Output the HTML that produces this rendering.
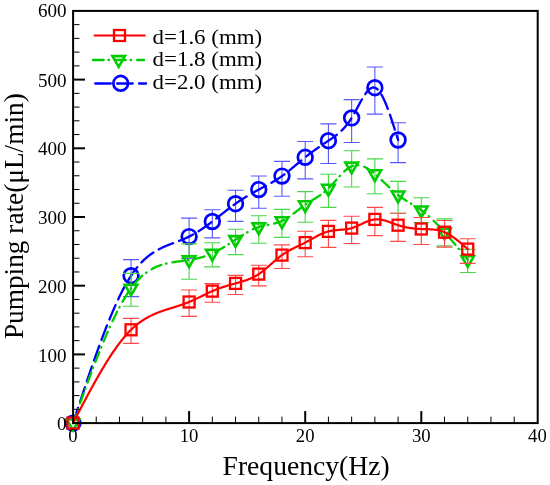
<!DOCTYPE html>
<html><head><meta charset="utf-8"><style>
html,body{margin:0;padding:0;background:#fff;}
body{width:550px;height:485px;overflow:hidden;}
svg{display:block;font-family:"Liberation Serif","Times New Roman",serif;}
</style></head><body>
<svg width="550" height="485" viewBox="0 0 550 485">
<rect width="550" height="485" fill="#fff"/>
<g><path d="M131.05,259.60V296.60M123.05,259.60H139.05M123.05,296.60H139.05M189.10,218.10V258.50M181.10,218.10H197.10M181.10,258.50H197.10M212.32,209.70V237.90M204.32,209.70H220.32M204.32,237.90H220.32M235.54,190.30V221.40M227.54,190.30H243.54M227.54,221.40H243.54M258.76,176.00V208.20M250.76,176.00H266.76M250.76,208.20H266.76M281.98,161.40V196.20M273.98,161.40H289.98M273.98,196.20H289.98M305.20,141.50V178.90M297.20,141.50H313.20M297.20,178.90H313.20M328.42,123.90V163.50M320.42,123.90H336.42M320.42,163.50H336.42M351.64,99.60V142.50M343.64,99.60H359.64M343.64,142.50H359.64M374.86,67.00V114.10M366.86,67.00H382.86M366.86,114.10H382.86M398.08,122.70V162.60M390.08,122.70H406.08M390.08,162.60H406.08" stroke="#5858ff" stroke-width="1.1" fill="none"/>
<path d="M73.00,423.10 L73.50,421.58 L74.00,420.05 L74.50,418.53 L75.00,417.01 L75.50,415.48 L76.00,413.96 L76.50,412.44 L77.00,410.92 L77.50,409.40 L78.00,407.88 L78.50,406.36 L79.00,404.85 L79.50,403.33 L80.00,401.82 L80.50,400.31 L81.00,398.80 L81.50,397.29 L82.00,395.78 L82.50,394.28 L83.00,392.78 L83.50,391.28 L84.00,389.78 L84.50,388.28 L85.00,386.79 L85.50,385.30 L86.00,383.81 L86.50,382.33 L87.00,380.85 L87.50,379.37 L88.00,377.90 L88.50,376.42 L89.00,374.96 L89.50,373.49 L90.00,372.03 L90.50,370.58 L91.00,369.12 L91.50,367.68 L92.00,366.23 L92.50,364.79 L93.00,363.36 L93.51,361.92 L94.01,360.50 L94.51,359.08 L95.01,357.66 L95.51,356.25 L96.01,354.84 L96.51,353.44 L97.01,352.04 L97.51,350.65 L98.01,349.27 L98.51,347.89 L99.01,346.51 L99.51,345.15 L100.01,343.78 L100.51,342.43 L101.01,341.08 L101.51,339.74 L102.01,338.40 L102.51,337.07 L103.01,335.74 L103.51,334.43 L104.01,333.12 L104.51,331.81 L105.01,330.52 L105.51,329.23 L106.01,327.95 L106.51,326.68 L107.01,325.41 L107.51,324.15 L108.01,322.90 L108.51,321.66 L109.01,320.42 L109.51,319.20 L110.01,317.98 L110.51,316.77 L111.01,315.57 L111.51,314.37 L112.01,313.19 L112.51,312.01 L113.01,310.85 L113.51,309.69 L114.01,308.54 L114.51,307.40 L115.01,306.27 L115.51,305.15 L116.01,304.04 L116.51,302.94 L117.01,301.85 L117.51,300.77 L118.01,299.70 L118.51,298.64 L119.01,297.59 L119.51,296.55 L120.01,295.52 L120.51,294.50 L121.01,293.49 L121.51,292.49 L122.01,291.51 L122.51,290.53 L123.01,289.57 L123.51,288.61 L124.01,287.67 L124.51,286.74 L125.01,285.82 L125.51,284.92 L126.01,284.02 L126.51,283.14 L127.01,282.27 L127.51,281.41 L128.01,280.57 L128.51,279.73 L129.01,278.91 L129.51,278.10 L130.01,277.31 L130.51,276.52 L131.01,275.75 L131.51,275.00 L132.01,274.25 L132.51,273.52 L133.01,272.81 L133.51,272.10 L134.02,271.41 L134.52,270.73 L135.02,270.06 L135.52,269.40 L136.02,268.75 L136.52,268.12 L137.02,267.50 L137.52,266.89 L138.02,266.29 L138.52,265.70 L139.02,265.12 L139.52,264.56 L140.02,264.00 L140.52,263.45 L141.02,262.92 L141.52,262.39 L142.02,261.88 L142.52,261.37 L143.02,260.88 L143.52,260.39 L144.02,259.91 L144.52,259.45 L145.02,258.99 L145.52,258.54 L146.02,258.10 L146.52,257.66 L147.02,257.24 L147.52,256.83 L148.02,256.42 L148.52,256.02 L149.02,255.63 L149.52,255.24 L150.02,254.87 L150.52,254.50 L151.02,254.14 L151.52,253.78 L152.02,253.44 L152.52,253.10 L153.02,252.76 L153.52,252.44 L154.02,252.12 L154.52,251.80 L155.02,251.49 L155.52,251.19 L156.02,250.89 L156.52,250.60 L157.02,250.32 L157.52,250.04 L158.02,249.76 L158.52,249.49 L159.02,249.23 L159.52,248.97 L160.02,248.71 L160.52,248.46 L161.02,248.22 L161.52,247.97 L162.02,247.73 L162.52,247.50 L163.02,247.27 L163.52,247.04 L164.02,246.82 L164.52,246.60 L165.02,246.38 L165.52,246.16 L166.02,245.95 L166.52,245.74 L167.02,245.53 L167.52,245.33 L168.02,245.13 L168.52,244.93 L169.02,244.73 L169.52,244.53 L170.02,244.34 L170.52,244.14 L171.02,243.95 L171.52,243.76 L172.02,243.57 L172.52,243.38 L173.02,243.19 L173.52,243.00 L174.02,242.82 L174.52,242.63 L175.03,242.44 L175.53,242.26 L176.03,242.07 L176.53,241.88 L177.03,241.69 L177.53,241.50 L178.03,241.31 L178.53,241.12 L179.03,240.93 L179.53,240.74 L180.03,240.54 L180.53,240.35 L181.03,240.15 L181.53,239.95 L182.03,239.75 L182.53,239.55 L183.03,239.34 L183.53,239.13 L184.03,238.92 L184.53,238.71 L185.03,238.49 L185.53,238.27 L186.03,238.05 L186.53,237.82 L187.03,237.59 L187.53,237.36 L188.03,237.12 L188.53,236.88 L189.03,236.64 L189.53,236.39 L190.03,236.13 L190.53,235.87 L191.03,235.61 L191.53,235.35 L192.03,235.08 L192.53,234.80 L193.03,234.53 L193.53,234.25 L194.03,233.96 L194.53,233.67 L195.03,233.38 L195.53,233.08 L196.03,232.78 L196.53,232.48 L197.03,232.18 L197.53,231.87 L198.03,231.55 L198.53,231.24 L199.03,230.92 L199.53,230.60 L200.03,230.27 L200.53,229.94 L201.03,229.61 L201.53,229.28 L202.03,228.94 L202.53,228.60 L203.03,228.26 L203.53,227.92 L204.03,227.57 L204.53,227.22 L205.03,226.87 L205.53,226.51 L206.03,226.16 L206.53,225.80 L207.03,225.44 L207.53,225.07 L208.03,224.71 L208.53,224.34 L209.03,223.97 L209.53,223.60 L210.03,223.23 L210.53,222.85 L211.03,222.48 L211.53,222.10 L212.03,221.72 L212.53,221.34 L213.03,220.95 L213.53,220.57 L214.03,220.18 L214.53,219.80 L215.03,219.41 L215.54,219.02 L216.04,218.63 L216.54,218.24 L217.04,217.85 L217.54,217.46 L218.04,217.07 L218.54,216.67 L219.04,216.28 L219.54,215.89 L220.04,215.49 L220.54,215.10 L221.04,214.71 L221.54,214.31 L222.04,213.92 L222.54,213.53 L223.04,213.13 L223.54,212.74 L224.04,212.35 L224.54,211.96 L225.04,211.57 L225.54,211.18 L226.04,210.79 L226.54,210.40 L227.04,210.02 L227.54,209.63 L228.04,209.25 L228.54,208.86 L229.04,208.48 L229.54,208.10 L230.04,207.72 L230.54,207.35 L231.04,206.97 L231.54,206.60 L232.04,206.23 L232.54,205.86 L233.04,205.50 L233.54,205.13 L234.04,204.77 L234.54,204.41 L235.04,204.05 L235.54,203.70 L236.04,203.35 L236.54,203.00 L237.04,202.65 L237.54,202.31 L238.04,201.97 L238.54,201.63 L239.04,201.30 L239.54,200.96 L240.04,200.63 L240.54,200.30 L241.04,199.98 L241.54,199.65 L242.04,199.33 L242.54,199.01 L243.04,198.69 L243.54,198.38 L244.04,198.07 L244.54,197.75 L245.04,197.45 L245.54,197.14 L246.04,196.83 L246.54,196.53 L247.04,196.23 L247.54,195.93 L248.04,195.63 L248.54,195.34 L249.04,195.04 L249.54,194.75 L250.04,194.46 L250.54,194.17 L251.04,193.88 L251.54,193.59 L252.04,193.31 L252.54,193.02 L253.04,192.74 L253.54,192.46 L254.04,192.18 L254.54,191.90 L255.04,191.63 L255.54,191.35 L256.05,191.07 L256.55,190.80 L257.05,190.53 L257.55,190.26 L258.05,189.99 L258.55,189.72 L259.05,189.45 L259.55,189.18 L260.05,188.91 L260.55,188.64 L261.05,188.38 L261.55,188.11 L262.05,187.85 L262.55,187.58 L263.05,187.31 L263.55,187.05 L264.05,186.78 L264.55,186.52 L265.05,186.25 L265.55,185.98 L266.05,185.71 L266.55,185.44 L267.05,185.17 L267.55,184.90 L268.05,184.63 L268.55,184.36 L269.05,184.08 L269.55,183.80 L270.05,183.53 L270.55,183.25 L271.05,182.96 L271.55,182.68 L272.05,182.39 L272.55,182.11 L273.05,181.82 L273.55,181.52 L274.05,181.23 L274.55,180.93 L275.05,180.63 L275.55,180.32 L276.05,180.02 L276.55,179.71 L277.05,179.39 L277.55,179.08 L278.05,178.75 L278.55,178.43 L279.05,178.10 L279.55,177.77 L280.05,177.43 L280.55,177.09 L281.05,176.75 L281.55,176.40 L282.05,176.05 L282.55,175.69 L283.05,175.33 L283.55,174.96 L284.05,174.59 L284.55,174.22 L285.05,173.84 L285.55,173.46 L286.05,173.08 L286.55,172.69 L287.05,172.30 L287.55,171.90 L288.05,171.50 L288.55,171.10 L289.05,170.70 L289.55,170.30 L290.05,169.89 L290.55,169.48 L291.05,169.07 L291.55,168.66 L292.05,168.24 L292.55,167.83 L293.05,167.41 L293.55,166.99 L294.05,166.57 L294.55,166.15 L295.05,165.73 L295.55,165.31 L296.05,164.89 L296.56,164.47 L297.06,164.05 L297.56,163.62 L298.06,163.20 L298.56,162.78 L299.06,162.36 L299.56,161.94 L300.06,161.52 L300.56,161.10 L301.06,160.69 L301.56,160.27 L302.06,159.86 L302.56,159.45 L303.06,159.04 L303.56,158.63 L304.06,158.22 L304.56,157.82 L305.06,157.41 L305.56,157.02 L306.06,156.62 L306.56,156.22 L307.06,155.83 L307.56,155.44 L308.06,155.06 L308.56,154.67 L309.06,154.29 L309.56,153.91 L310.06,153.53 L310.56,153.16 L311.06,152.78 L311.56,152.41 L312.06,152.04 L312.56,151.67 L313.06,151.31 L313.56,150.94 L314.06,150.58 L314.56,150.22 L315.06,149.86 L315.56,149.50 L316.06,149.15 L316.56,148.79 L317.06,148.44 L317.56,148.09 L318.06,147.74 L318.56,147.39 L319.06,147.04 L319.56,146.69 L320.06,146.35 L320.56,146.00 L321.06,145.66 L321.56,145.32 L322.06,144.98 L322.56,144.64 L323.06,144.30 L323.56,143.96 L324.06,143.62 L324.56,143.28 L325.06,142.95 L325.56,142.61 L326.06,142.28 L326.56,141.94 L327.06,141.61 L327.56,141.27 L328.06,140.94 L328.56,140.60 L329.06,140.27 L329.56,139.94 L330.06,139.60 L330.56,139.27 L331.06,138.93 L331.56,138.59 L332.06,138.25 L332.56,137.90 L333.06,137.55 L333.56,137.20 L334.06,136.84 L334.56,136.48 L335.06,136.11 L335.56,135.74 L336.06,135.36 L336.56,134.97 L337.06,134.58 L337.57,134.18 L338.07,133.77 L338.57,133.35 L339.07,132.93 L339.57,132.49 L340.07,132.05 L340.57,131.59 L341.07,131.12 L341.57,130.64 L342.07,130.15 L342.57,129.65 L343.07,129.14 L343.57,128.61 L344.07,128.07 L344.57,127.51 L345.07,126.94 L345.57,126.36 L346.07,125.76 L346.57,125.14 L347.07,124.51 L347.57,123.86 L348.07,123.20 L348.57,122.51 L349.07,121.81 L349.57,121.09 L350.07,120.35 L350.57,119.59 L351.07,118.81 L351.57,118.02 L352.07,117.20 L352.57,116.36 L353.07,115.50 L353.57,114.63 L354.07,113.74 L354.57,112.85 L355.07,111.94 L355.57,111.02 L356.07,110.10 L356.57,109.17 L357.07,108.24 L357.57,107.30 L358.07,106.37 L358.57,105.44 L359.07,104.51 L359.57,103.59 L360.07,102.68 L360.57,101.78 L361.07,100.89 L361.57,100.01 L362.07,99.14 L362.57,98.29 L363.07,97.47 L363.57,96.66 L364.07,95.87 L364.57,95.11 L365.07,94.37 L365.57,93.66 L366.07,92.98 L366.57,92.33 L367.07,91.71 L367.57,91.13 L368.07,90.58 L368.57,90.08 L369.07,89.61 L369.57,89.18 L370.07,88.80 L370.57,88.46 L371.07,88.17 L371.57,87.93 L372.07,87.74 L372.57,87.61 L373.07,87.52 L373.57,87.50 L374.07,87.53 L374.57,87.62 L375.07,87.77 L375.57,87.99 L376.07,88.26 L376.57,88.60 L377.07,88.99 L377.57,89.44 L378.08,89.95 L378.58,90.50 L379.08,91.12 L379.58,91.78 L380.08,92.49 L380.58,93.25 L381.08,94.06 L381.58,94.91 L382.08,95.81 L382.58,96.75 L383.08,97.74 L383.58,98.76 L384.08,99.83 L384.58,100.93 L385.08,102.06 L385.58,103.24 L386.08,104.44 L386.58,105.68 L387.08,106.95 L387.58,108.25 L388.08,109.58 L388.58,110.93 L389.08,112.31 L389.58,113.72 L390.08,115.14 L390.58,116.59 L391.08,118.06 L391.58,119.55 L392.08,121.06 L392.58,122.58 L393.08,124.11 L393.58,125.66 L394.08,127.23 L394.58,128.80 L395.08,130.38 L395.58,131.97 L396.08,133.57 L396.58,135.17 L397.08,136.78 L397.58,138.39 L398.08,140.00" fill="none" stroke="#0000ff" stroke-width="2.3" stroke-dasharray="15.6 6.3" stroke-dashoffset="-0.34" stroke-linecap="round"/>
<circle cx="73.00" cy="423.10" r="7.35" fill="none" stroke="#0000ff" stroke-width="2.7"/>
<circle cx="131.05" cy="275.70" r="7.35" fill="none" stroke="#0000ff" stroke-width="2.7"/>
<circle cx="189.10" cy="236.60" r="7.35" fill="none" stroke="#0000ff" stroke-width="2.7"/>
<circle cx="212.32" cy="221.50" r="7.35" fill="none" stroke="#0000ff" stroke-width="2.7"/>
<circle cx="235.54" cy="203.70" r="7.35" fill="none" stroke="#0000ff" stroke-width="2.7"/>
<circle cx="258.76" cy="189.60" r="7.35" fill="none" stroke="#0000ff" stroke-width="2.7"/>
<circle cx="281.98" cy="176.10" r="7.35" fill="none" stroke="#0000ff" stroke-width="2.7"/>
<circle cx="305.20" cy="157.30" r="7.35" fill="none" stroke="#0000ff" stroke-width="2.7"/>
<circle cx="328.42" cy="140.70" r="7.35" fill="none" stroke="#0000ff" stroke-width="2.7"/>
<circle cx="351.64" cy="117.90" r="7.35" fill="none" stroke="#0000ff" stroke-width="2.7"/>
<circle cx="374.86" cy="87.70" r="7.35" fill="none" stroke="#0000ff" stroke-width="2.7"/>
<circle cx="398.08" cy="140.00" r="7.35" fill="none" stroke="#0000ff" stroke-width="2.7"/>
<path d="M131.05,273.40V306.20M123.05,273.40H139.05M123.05,306.20H139.05M189.10,243.90V279.30M181.10,243.90H197.10M181.10,279.30H197.10M212.32,242.80V266.90M204.32,242.80H220.32M204.32,266.90H220.32M235.54,229.30V254.60M227.54,229.30H243.54M227.54,254.60H243.54M258.76,215.70V243.20M250.76,215.70H266.76M250.76,243.20H266.76M281.98,209.40V237.40M273.98,209.40H289.98M273.98,237.40H289.98M305.20,191.60V222.30M297.20,191.60H313.20M297.20,222.30H313.20M328.42,174.20V207.40M320.42,174.20H336.42M320.42,207.40H336.42M351.64,150.80V187.00M343.64,150.80H359.64M343.64,187.00H359.64M374.86,158.90V193.70M366.86,158.90H382.86M366.86,193.70H382.86M398.08,181.40V213.20M390.08,181.40H406.08M390.08,213.20H406.08M421.30,197.70V222.50M413.30,197.70H429.30M413.30,222.50H429.30M444.52,218.90V245.90M436.52,218.90H452.52M436.52,245.90H452.52M467.74,249.40V272.50M459.74,249.40H475.74M459.74,272.50H475.74" stroke="#48d848" stroke-width="1.1" fill="none"/>
<path d="M73.00,423.10 L73.50,421.70 L74.00,420.30 L74.50,418.90 L75.00,417.50 L75.50,416.10 L76.00,414.70 L76.50,413.30 L77.00,411.91 L77.50,410.51 L78.00,409.11 L78.50,407.72 L79.00,406.33 L79.50,404.93 L80.00,403.54 L80.50,402.15 L81.00,400.77 L81.51,399.38 L82.01,398.00 L82.51,396.61 L83.01,395.23 L83.51,393.86 L84.01,392.48 L84.51,391.11 L85.01,389.74 L85.51,388.37 L86.01,387.00 L86.51,385.64 L87.01,384.28 L87.51,382.92 L88.01,381.57 L88.51,380.22 L89.01,378.87 L89.51,377.52 L90.01,376.18 L90.51,374.85 L91.01,373.51 L91.51,372.18 L92.01,370.86 L92.51,369.54 L93.01,368.22 L93.51,366.91 L94.01,365.60 L94.51,364.29 L95.01,362.99 L95.51,361.70 L96.01,360.41 L96.51,359.12 L97.01,357.84 L97.51,356.57 L98.02,355.30 L98.52,354.03 L99.02,352.77 L99.52,351.52 L100.02,350.27 L100.52,349.03 L101.02,347.79 L101.52,346.56 L102.02,345.34 L102.52,344.12 L103.02,342.91 L103.52,341.70 L104.02,340.50 L104.52,339.31 L105.02,338.12 L105.52,336.94 L106.02,335.77 L106.52,334.61 L107.02,333.45 L107.52,332.30 L108.02,331.15 L108.52,330.02 L109.02,328.89 L109.52,327.77 L110.02,326.65 L110.52,325.55 L111.02,324.45 L111.52,323.36 L112.02,322.28 L112.52,321.21 L113.02,320.14 L113.52,319.09 L114.02,318.04 L114.53,317.00 L115.03,315.97 L115.53,314.95 L116.03,313.94 L116.53,312.94 L117.03,311.94 L117.53,310.96 L118.03,309.99 L118.53,309.02 L119.03,308.07 L119.53,307.12 L120.03,306.19 L120.53,305.26 L121.03,304.34 L121.53,303.44 L122.03,302.54 L122.53,301.66 L123.03,300.79 L123.53,299.92 L124.03,299.07 L124.53,298.23 L125.03,297.40 L125.53,296.58 L126.03,295.77 L126.53,294.97 L127.03,294.19 L127.53,293.41 L128.03,292.65 L128.53,291.90 L129.03,291.16 L129.53,290.43 L130.03,289.71 L130.53,289.01 L131.04,288.32 L131.54,287.64 L132.04,286.97 L132.54,286.32 L133.04,285.68 L133.54,285.05 L134.04,284.43 L134.54,283.82 L135.04,283.23 L135.54,282.64 L136.04,282.07 L136.54,281.51 L137.04,280.95 L137.54,280.41 L138.04,279.88 L138.54,279.37 L139.04,278.86 L139.54,278.36 L140.04,277.87 L140.54,277.39 L141.04,276.93 L141.54,276.47 L142.04,276.02 L142.54,275.58 L143.04,275.15 L143.54,274.73 L144.04,274.32 L144.54,273.92 L145.04,273.53 L145.54,273.15 L146.04,272.77 L146.54,272.41 L147.05,272.05 L147.55,271.70 L148.05,271.36 L148.55,271.03 L149.05,270.71 L149.55,270.39 L150.05,270.08 L150.55,269.78 L151.05,269.49 L151.55,269.20 L152.05,268.92 L152.55,268.65 L153.05,268.39 L153.55,268.13 L154.05,267.88 L154.55,267.64 L155.05,267.40 L155.55,267.17 L156.05,266.95 L156.55,266.73 L157.05,266.52 L157.55,266.31 L158.05,266.11 L158.55,265.91 L159.05,265.73 L159.55,265.54 L160.05,265.36 L160.55,265.19 L161.05,265.02 L161.55,264.86 L162.05,264.70 L162.55,264.55 L163.05,264.40 L163.56,264.26 L164.06,264.12 L164.56,263.98 L165.06,263.85 L165.56,263.72 L166.06,263.60 L166.56,263.48 L167.06,263.37 L167.56,263.25 L168.06,263.14 L168.56,263.04 L169.06,262.94 L169.56,262.84 L170.06,262.74 L170.56,262.65 L171.06,262.55 L171.56,262.47 L172.06,262.38 L172.56,262.30 L173.06,262.21 L173.56,262.13 L174.06,262.06 L174.56,261.98 L175.06,261.91 L175.56,261.83 L176.06,261.76 L176.56,261.69 L177.06,261.62 L177.56,261.55 L178.06,261.49 L178.56,261.42 L179.06,261.36 L179.56,261.29 L180.07,261.23 L180.57,261.16 L181.07,261.10 L181.57,261.04 L182.07,260.97 L182.57,260.91 L183.07,260.84 L183.57,260.78 L184.07,260.71 L184.57,260.65 L185.07,260.58 L185.57,260.51 L186.07,260.44 L186.57,260.37 L187.07,260.30 L187.57,260.23 L188.07,260.16 L188.57,260.08 L189.07,260.00 L189.57,259.93 L190.07,259.84 L190.57,259.76 L191.07,259.68 L191.57,259.59 L192.07,259.50 L192.57,259.41 L193.07,259.31 L193.57,259.22 L194.07,259.12 L194.57,259.02 L195.07,258.91 L195.57,258.81 L196.07,258.70 L196.58,258.59 L197.08,258.47 L197.58,258.36 L198.08,258.24 L198.58,258.11 L199.08,257.99 L199.58,257.86 L200.08,257.73 L200.58,257.59 L201.08,257.46 L201.58,257.31 L202.08,257.17 L202.58,257.02 L203.08,256.87 L203.58,256.72 L204.08,256.56 L204.58,256.40 L205.08,256.23 L205.58,256.06 L206.08,255.89 L206.58,255.71 L207.08,255.53 L207.58,255.35 L208.08,255.16 L208.58,254.97 L209.08,254.77 L209.58,254.57 L210.08,254.37 L210.58,254.16 L211.08,253.95 L211.58,253.73 L212.08,253.51 L212.58,253.28 L213.09,253.05 L213.59,252.81 L214.09,252.57 L214.59,252.33 L215.09,252.08 L215.59,251.83 L216.09,251.58 L216.59,251.32 L217.09,251.06 L217.59,250.79 L218.09,250.52 L218.59,250.25 L219.09,249.97 L219.59,249.69 L220.09,249.41 L220.59,249.12 L221.09,248.83 L221.59,248.54 L222.09,248.25 L222.59,247.95 L223.09,247.65 L223.59,247.35 L224.09,247.05 L224.59,246.74 L225.09,246.44 L225.59,246.13 L226.09,245.81 L226.59,245.50 L227.09,245.19 L227.59,244.87 L228.09,244.55 L228.59,244.23 L229.09,243.91 L229.60,243.59 L230.10,243.26 L230.60,242.94 L231.10,242.61 L231.60,242.29 L232.10,241.96 L232.60,241.63 L233.10,241.31 L233.60,240.98 L234.10,240.65 L234.60,240.32 L235.10,239.99 L235.60,239.66 L236.10,239.33 L236.60,239.00 L237.10,238.67 L237.60,238.35 L238.10,238.02 L238.60,237.69 L239.10,237.37 L239.60,237.04 L240.10,236.72 L240.60,236.40 L241.10,236.08 L241.60,235.76 L242.10,235.44 L242.60,235.13 L243.10,234.82 L243.60,234.51 L244.10,234.20 L244.60,233.89 L245.10,233.59 L245.60,233.29 L246.11,233.00 L246.61,232.71 L247.11,232.42 L247.61,232.13 L248.11,231.85 L248.61,231.57 L249.11,231.30 L249.61,231.03 L250.11,230.76 L250.61,230.50 L251.11,230.24 L251.61,229.99 L252.11,229.74 L252.61,229.50 L253.11,229.26 L253.61,229.03 L254.11,228.81 L254.61,228.59 L255.11,228.37 L255.61,228.16 L256.11,227.96 L256.61,227.77 L257.11,227.58 L257.61,227.39 L258.11,227.22 L258.61,227.05 L259.11,226.89 L259.61,226.73 L260.11,226.58 L260.61,226.44 L261.11,226.30 L261.61,226.17 L262.11,226.04 L262.62,225.92 L263.12,225.80 L263.62,225.69 L264.12,225.58 L264.62,225.47 L265.12,225.37 L265.62,225.26 L266.12,225.16 L266.62,225.06 L267.12,224.97 L267.62,224.87 L268.12,224.77 L268.62,224.68 L269.12,224.58 L269.62,224.49 L270.12,224.39 L270.62,224.29 L271.12,224.19 L271.62,224.09 L272.12,223.98 L272.62,223.88 L273.12,223.77 L273.62,223.65 L274.12,223.54 L274.62,223.41 L275.12,223.29 L275.62,223.16 L276.12,223.02 L276.62,222.88 L277.12,222.73 L277.62,222.57 L278.12,222.41 L278.63,222.24 L279.13,222.07 L279.63,221.88 L280.13,221.69 L280.63,221.49 L281.13,221.28 L281.63,221.06 L282.13,220.83 L282.63,220.59 L283.13,220.34 L283.63,220.09 L284.13,219.82 L284.63,219.54 L285.13,219.26 L285.63,218.97 L286.13,218.67 L286.63,218.36 L287.13,218.05 L287.63,217.73 L288.13,217.40 L288.63,217.07 L289.13,216.73 L289.63,216.39 L290.13,216.04 L290.63,215.69 L291.13,215.33 L291.63,214.97 L292.13,214.60 L292.63,214.24 L293.13,213.86 L293.63,213.49 L294.13,213.11 L294.63,212.73 L295.14,212.35 L295.64,211.97 L296.14,211.58 L296.64,211.20 L297.14,210.81 L297.64,210.43 L298.14,210.04 L298.64,209.66 L299.14,209.27 L299.64,208.89 L300.14,208.51 L300.64,208.13 L301.14,207.75 L301.64,207.38 L302.14,207.00 L302.64,206.63 L303.14,206.27 L303.64,205.90 L304.14,205.55 L304.64,205.19 L305.14,204.84 L305.64,204.50 L306.14,204.16 L306.64,203.82 L307.14,203.49 L307.64,203.16 L308.14,202.83 L308.64,202.51 L309.14,202.19 L309.64,201.88 L310.14,201.56 L310.64,201.25 L311.14,200.93 L311.65,200.62 L312.15,200.31 L312.65,200.00 L313.15,199.69 L313.65,199.38 L314.15,199.07 L314.65,198.76 L315.15,198.44 L315.65,198.13 L316.15,197.81 L316.65,197.49 L317.15,197.16 L317.65,196.84 L318.15,196.51 L318.65,196.17 L319.15,195.84 L319.65,195.49 L320.15,195.15 L320.65,194.79 L321.15,194.44 L321.65,194.07 L322.15,193.70 L322.65,193.33 L323.15,192.94 L323.65,192.55 L324.15,192.15 L324.65,191.75 L325.15,191.33 L325.65,190.91 L326.15,190.48 L326.65,190.04 L327.15,189.59 L327.65,189.12 L328.16,188.65 L328.66,188.17 L329.16,187.68 L329.66,187.18 L330.16,186.67 L330.66,186.15 L331.16,185.62 L331.66,185.09 L332.16,184.55 L332.66,184.00 L333.16,183.45 L333.66,182.90 L334.16,182.34 L334.66,181.78 L335.16,181.21 L335.66,180.65 L336.16,180.09 L336.66,179.52 L337.16,178.96 L337.66,178.40 L338.16,177.84 L338.66,177.28 L339.16,176.73 L339.66,176.18 L340.16,175.64 L340.66,175.10 L341.16,174.57 L341.66,174.05 L342.16,173.53 L342.66,173.02 L343.16,172.52 L343.66,172.04 L344.16,171.56 L344.67,171.10 L345.17,170.64 L345.67,170.20 L346.17,169.78 L346.67,169.36 L347.17,168.97 L347.67,168.59 L348.17,168.22 L348.67,167.87 L349.17,167.54 L349.67,167.23 L350.17,166.94 L350.67,166.67 L351.17,166.42 L351.67,166.19 L352.17,165.98 L352.67,165.79 L353.17,165.63 L353.67,165.48 L354.17,165.36 L354.67,165.26 L355.17,165.18 L355.67,165.11 L356.17,165.07 L356.67,165.04 L357.17,165.04 L357.67,165.05 L358.17,165.08 L358.67,165.13 L359.17,165.19 L359.67,165.27 L360.17,165.37 L360.67,165.48 L361.18,165.61 L361.68,165.76 L362.18,165.92 L362.68,166.09 L363.18,166.28 L363.68,166.48 L364.18,166.70 L364.68,166.93 L365.18,167.17 L365.68,167.42 L366.18,167.69 L366.68,167.97 L367.18,168.26 L367.68,168.56 L368.18,168.87 L368.68,169.20 L369.18,169.53 L369.68,169.87 L370.18,170.22 L370.68,170.58 L371.18,170.95 L371.68,171.33 L372.18,171.72 L372.68,172.11 L373.18,172.51 L373.68,172.92 L374.18,173.33 L374.68,173.75 L375.18,174.18 L375.68,174.61 L376.18,175.04 L376.68,175.49 L377.18,175.93 L377.69,176.38 L378.19,176.84 L378.69,177.30 L379.19,177.76 L379.69,178.22 L380.19,178.69 L380.69,179.16 L381.19,179.64 L381.69,180.11 L382.19,180.59 L382.69,181.07 L383.19,181.55 L383.69,182.03 L384.19,182.51 L384.69,183.00 L385.19,183.48 L385.69,183.96 L386.19,184.45 L386.69,184.93 L387.19,185.41 L387.69,185.89 L388.19,186.37 L388.69,186.84 L389.19,187.32 L389.69,187.79 L390.19,188.26 L390.69,188.73 L391.19,189.19 L391.69,189.65 L392.19,190.11 L392.69,190.56 L393.19,191.01 L393.69,191.45 L394.20,191.89 L394.70,192.32 L395.20,192.75 L395.70,193.17 L396.20,193.59 L396.70,194.00 L397.20,194.40 L397.70,194.80 L398.20,195.19 L398.70,195.57 L399.20,195.95 L399.70,196.32 L400.20,196.68 L400.70,197.04 L401.20,197.39 L401.70,197.73 L402.20,198.07 L402.70,198.41 L403.20,198.74 L403.70,199.07 L404.20,199.39 L404.70,199.71 L405.20,200.02 L405.70,200.34 L406.20,200.65 L406.70,200.95 L407.20,201.26 L407.70,201.56 L408.20,201.86 L408.70,202.16 L409.20,202.46 L409.70,202.75 L410.21,203.05 L410.71,203.35 L411.21,203.64 L411.71,203.94 L412.21,204.24 L412.71,204.54 L413.21,204.84 L413.71,205.14 L414.21,205.44 L414.71,205.75 L415.21,206.05 L415.71,206.36 L416.21,206.68 L416.71,206.99 L417.21,207.31 L417.71,207.64 L418.21,207.97 L418.71,208.30 L419.21,208.63 L419.71,208.98 L420.21,209.32 L420.71,209.68 L421.21,210.04 L421.71,210.40 L422.21,210.77 L422.71,211.15 L423.21,211.53 L423.71,211.92 L424.21,212.32 L424.71,212.72 L425.21,213.12 L425.71,213.53 L426.21,213.95 L426.72,214.37 L427.22,214.80 L427.72,215.23 L428.22,215.67 L428.72,216.12 L429.22,216.56 L429.72,217.02 L430.22,217.47 L430.72,217.94 L431.22,218.40 L431.72,218.88 L432.22,219.35 L432.72,219.83 L433.22,220.32 L433.72,220.80 L434.22,221.30 L434.72,221.79 L435.22,222.29 L435.72,222.80 L436.22,223.31 L436.72,223.82 L437.22,224.33 L437.72,224.85 L438.22,225.37 L438.72,225.90 L439.22,226.43 L439.72,226.96 L440.22,227.49 L440.72,228.03 L441.22,228.57 L441.72,229.12 L442.22,229.66 L442.72,230.21 L443.23,230.76 L443.73,231.32 L444.23,231.87 L444.73,232.43 L445.23,232.99 L445.73,233.55 L446.23,234.12 L446.73,234.68 L447.23,235.25 L447.73,235.82 L448.23,236.40 L448.73,236.97 L449.23,237.55 L449.73,238.12 L450.23,238.70 L450.73,239.29 L451.23,239.87 L451.73,240.45 L452.23,241.04 L452.73,241.63 L453.23,242.22 L453.73,242.81 L454.23,243.40 L454.73,243.99 L455.23,244.58 L455.73,245.18 L456.23,245.78 L456.73,246.37 L457.23,246.97 L457.73,247.57 L458.23,248.17 L458.73,248.77 L459.23,249.38 L459.74,249.98 L460.24,250.58 L460.74,251.19 L461.24,251.79 L461.74,252.40 L462.24,253.01 L462.74,253.61 L463.24,254.22 L463.74,254.83 L464.24,255.44 L464.74,256.04 L465.24,256.65 L465.74,257.26 L466.24,257.87 L466.74,258.48 L467.24,259.09 L467.74,259.70" fill="none" stroke="#00cc00" stroke-width="2.3" stroke-dasharray="10.6 4.91 0.5 6.06" stroke-dashoffset="1.16" stroke-linecap="round"/>
<path d="M66.75,419.49H79.25L73.00,430.32Z" fill="none" stroke="#00cc00" stroke-width="2.6" stroke-linejoin="miter"/>
<path d="M124.80,284.69H137.30L131.05,295.52Z" fill="none" stroke="#00cc00" stroke-width="2.6" stroke-linejoin="miter"/>
<path d="M182.85,256.39H195.35L189.10,267.22Z" fill="none" stroke="#00cc00" stroke-width="2.6" stroke-linejoin="miter"/>
<path d="M206.07,249.79H218.57L212.32,260.62Z" fill="none" stroke="#00cc00" stroke-width="2.6" stroke-linejoin="miter"/>
<path d="M229.29,236.09H241.79L235.54,246.92Z" fill="none" stroke="#00cc00" stroke-width="2.6" stroke-linejoin="miter"/>
<path d="M252.51,223.39H265.01L258.76,234.22Z" fill="none" stroke="#00cc00" stroke-width="2.6" stroke-linejoin="miter"/>
<path d="M275.73,217.29H288.23L281.98,228.12Z" fill="none" stroke="#00cc00" stroke-width="2.6" stroke-linejoin="miter"/>
<path d="M298.95,201.19H311.45L305.20,212.02Z" fill="none" stroke="#00cc00" stroke-width="2.6" stroke-linejoin="miter"/>
<path d="M322.17,184.79H334.67L328.42,195.62Z" fill="none" stroke="#00cc00" stroke-width="2.6" stroke-linejoin="miter"/>
<path d="M345.39,162.59H357.89L351.64,173.42Z" fill="none" stroke="#00cc00" stroke-width="2.6" stroke-linejoin="miter"/>
<path d="M368.61,170.29H381.11L374.86,181.12Z" fill="none" stroke="#00cc00" stroke-width="2.6" stroke-linejoin="miter"/>
<path d="M391.83,191.49H404.33L398.08,202.32Z" fill="none" stroke="#00cc00" stroke-width="2.6" stroke-linejoin="miter"/>
<path d="M415.05,206.49H427.55L421.30,217.32Z" fill="none" stroke="#00cc00" stroke-width="2.6" stroke-linejoin="miter"/>
<path d="M438.27,228.59H450.77L444.52,239.42Z" fill="none" stroke="#00cc00" stroke-width="2.6" stroke-linejoin="miter"/>
<path d="M461.49,256.09H473.99L467.74,266.92Z" fill="none" stroke="#00cc00" stroke-width="2.6" stroke-linejoin="miter"/>
<path d="M131.05,318.40V343.40M123.05,318.40H139.05M123.05,343.40H139.05M189.10,290.00V316.40M181.10,290.00H197.10M181.10,316.40H197.10M212.32,283.60V302.20M204.32,283.60H220.32M204.32,302.20H220.32M235.54,275.40V294.50M227.54,275.40H243.54M227.54,294.50H243.54M258.76,265.30V285.90M250.76,265.30H266.76M250.76,285.90H266.76M281.98,244.90V268.50M273.98,244.90H289.98M273.98,268.50H289.98M305.20,231.20V256.80M297.20,231.20H313.20M297.20,256.80H313.20M328.42,220.40V247.40M320.42,220.40H336.42M320.42,247.40H336.42M351.64,216.30V243.50M343.64,216.30H359.64M343.64,243.50H359.64M374.86,207.40V235.60M366.86,207.40H382.86M366.86,235.60H382.86M398.08,213.30V241.40M390.08,213.30H406.08M390.08,241.40H406.08M421.30,217.50V244.50M413.30,217.50H429.30M413.30,244.50H429.30M444.52,220.50V247.10M436.52,220.50H452.52M436.52,247.10H452.52M467.74,238.70V263.40M459.74,238.70H475.74M459.74,263.40H475.74" stroke="#ff4848" stroke-width="1.1" fill="none"/>
<path d="M73.00,423.10 L73.50,422.14 L74.00,421.18 L74.50,420.22 L75.00,419.26 L75.50,418.30 L76.00,417.34 L76.50,416.38 L77.00,415.42 L77.50,414.46 L78.00,413.50 L78.50,412.55 L79.00,411.59 L79.50,410.63 L80.00,409.68 L80.50,408.73 L81.00,407.77 L81.51,406.82 L82.01,405.87 L82.51,404.92 L83.01,403.98 L83.51,403.03 L84.01,402.09 L84.51,401.14 L85.01,400.20 L85.51,399.26 L86.01,398.32 L86.51,397.39 L87.01,396.45 L87.51,395.52 L88.01,394.59 L88.51,393.66 L89.01,392.73 L89.51,391.81 L90.01,390.89 L90.51,389.97 L91.01,389.05 L91.51,388.14 L92.01,387.23 L92.51,386.32 L93.01,385.41 L93.51,384.51 L94.01,383.61 L94.51,382.71 L95.01,381.81 L95.51,380.92 L96.01,380.03 L96.51,379.15 L97.01,378.27 L97.51,377.39 L98.02,376.51 L98.52,375.64 L99.02,374.77 L99.52,373.91 L100.02,373.05 L100.52,372.19 L101.02,371.34 L101.52,370.49 L102.02,369.64 L102.52,368.80 L103.02,367.96 L103.52,367.13 L104.02,366.30 L104.52,365.48 L105.02,364.66 L105.52,363.84 L106.02,363.03 L106.52,362.22 L107.02,361.42 L107.52,360.63 L108.02,359.83 L108.52,359.05 L109.02,358.26 L109.52,357.49 L110.02,356.72 L110.52,355.95 L111.02,355.19 L111.52,354.43 L112.02,353.68 L112.52,352.93 L113.02,352.19 L113.52,351.46 L114.02,350.73 L114.53,350.01 L115.03,349.29 L115.53,348.58 L116.03,347.87 L116.53,347.17 L117.03,346.48 L117.53,345.79 L118.03,345.11 L118.53,344.44 L119.03,343.77 L119.53,343.11 L120.03,342.45 L120.53,341.80 L121.03,341.16 L121.53,340.52 L122.03,339.89 L122.53,339.27 L123.03,338.66 L123.53,338.05 L124.03,337.45 L124.53,336.85 L125.03,336.27 L125.53,335.69 L126.03,335.12 L126.53,334.55 L127.03,333.99 L127.53,333.45 L128.03,332.90 L128.53,332.37 L129.03,331.84 L129.53,331.32 L130.03,330.81 L130.53,330.31 L131.04,329.81 L131.54,329.33 L132.04,328.85 L132.54,328.38 L133.04,327.91 L133.54,327.46 L134.04,327.01 L134.54,326.57 L135.04,326.14 L135.54,325.71 L136.04,325.29 L136.54,324.88 L137.04,324.48 L137.54,324.08 L138.04,323.69 L138.54,323.31 L139.04,322.93 L139.54,322.56 L140.04,322.20 L140.54,321.84 L141.04,321.49 L141.54,321.14 L142.04,320.80 L142.54,320.47 L143.04,320.14 L143.54,319.82 L144.04,319.51 L144.54,319.20 L145.04,318.89 L145.54,318.59 L146.04,318.30 L146.54,318.01 L147.05,317.72 L147.55,317.45 L148.05,317.17 L148.55,316.90 L149.05,316.64 L149.55,316.38 L150.05,316.12 L150.55,315.87 L151.05,315.62 L151.55,315.38 L152.05,315.14 L152.55,314.91 L153.05,314.68 L153.55,314.45 L154.05,314.23 L154.55,314.01 L155.05,313.79 L155.55,313.58 L156.05,313.37 L156.55,313.17 L157.05,312.96 L157.55,312.76 L158.05,312.57 L158.55,312.37 L159.05,312.18 L159.55,311.99 L160.05,311.81 L160.55,311.62 L161.05,311.44 L161.55,311.26 L162.05,311.08 L162.55,310.91 L163.05,310.74 L163.56,310.57 L164.06,310.40 L164.56,310.23 L165.06,310.06 L165.56,309.90 L166.06,309.73 L166.56,309.57 L167.06,309.41 L167.56,309.25 L168.06,309.09 L168.56,308.93 L169.06,308.78 L169.56,308.62 L170.06,308.47 L170.56,308.31 L171.06,308.16 L171.56,308.00 L172.06,307.85 L172.56,307.69 L173.06,307.54 L173.56,307.38 L174.06,307.23 L174.56,307.07 L175.06,306.92 L175.56,306.76 L176.06,306.61 L176.56,306.45 L177.06,306.29 L177.56,306.13 L178.06,305.97 L178.56,305.81 L179.06,305.65 L179.56,305.49 L180.07,305.32 L180.57,305.15 L181.07,304.99 L181.57,304.82 L182.07,304.65 L182.57,304.47 L183.07,304.30 L183.57,304.12 L184.07,303.94 L184.57,303.76 L185.07,303.58 L185.57,303.39 L186.07,303.20 L186.57,303.01 L187.07,302.82 L187.57,302.62 L188.07,302.42 L188.57,302.22 L189.07,302.01 L189.57,301.80 L190.07,301.59 L190.57,301.38 L191.07,301.16 L191.57,300.94 L192.07,300.71 L192.57,300.49 L193.07,300.26 L193.57,300.03 L194.07,299.80 L194.57,299.56 L195.07,299.33 L195.57,299.09 L196.07,298.85 L196.58,298.61 L197.08,298.37 L197.58,298.13 L198.08,297.88 L198.58,297.64 L199.08,297.39 L199.58,297.15 L200.08,296.90 L200.58,296.65 L201.08,296.41 L201.58,296.16 L202.08,295.91 L202.58,295.67 L203.08,295.42 L203.58,295.17 L204.08,294.93 L204.58,294.68 L205.08,294.44 L205.58,294.20 L206.08,293.96 L206.58,293.72 L207.08,293.48 L207.58,293.24 L208.08,293.01 L208.58,292.77 L209.08,292.54 L209.58,292.31 L210.08,292.08 L210.58,291.86 L211.08,291.64 L211.58,291.42 L212.08,291.20 L212.58,290.99 L213.09,290.78 L213.59,290.57 L214.09,290.36 L214.59,290.16 L215.09,289.96 L215.59,289.76 L216.09,289.57 L216.59,289.38 L217.09,289.19 L217.59,289.00 L218.09,288.81 L218.59,288.63 L219.09,288.45 L219.59,288.27 L220.09,288.10 L220.59,287.92 L221.09,287.75 L221.59,287.58 L222.09,287.41 L222.59,287.25 L223.09,287.08 L223.59,286.92 L224.09,286.76 L224.59,286.60 L225.09,286.44 L225.59,286.28 L226.09,286.13 L226.59,285.97 L227.09,285.82 L227.59,285.67 L228.09,285.52 L228.59,285.37 L229.09,285.23 L229.60,285.08 L230.10,284.93 L230.60,284.79 L231.10,284.65 L231.60,284.50 L232.10,284.36 L232.60,284.22 L233.10,284.08 L233.60,283.94 L234.10,283.80 L234.60,283.66 L235.10,283.52 L235.60,283.38 L236.10,283.25 L236.60,283.11 L237.10,282.97 L237.60,282.83 L238.10,282.69 L238.60,282.55 L239.10,282.41 L239.60,282.27 L240.10,282.13 L240.60,281.99 L241.10,281.84 L241.60,281.69 L242.10,281.54 L242.60,281.39 L243.10,281.24 L243.60,281.08 L244.10,280.92 L244.60,280.76 L245.10,280.59 L245.60,280.42 L246.11,280.25 L246.61,280.08 L247.11,279.89 L247.61,279.71 L248.11,279.52 L248.61,279.33 L249.11,279.13 L249.61,278.93 L250.11,278.72 L250.61,278.50 L251.11,278.28 L251.61,278.06 L252.11,277.83 L252.61,277.59 L253.11,277.35 L253.61,277.10 L254.11,276.84 L254.61,276.58 L255.11,276.31 L255.61,276.03 L256.11,275.74 L256.61,275.45 L257.11,275.15 L257.61,274.84 L258.11,274.52 L258.61,274.20 L259.11,273.86 L259.61,273.52 L260.11,273.17 L260.61,272.81 L261.11,272.44 L261.61,272.07 L262.11,271.69 L262.62,271.31 L263.12,270.91 L263.62,270.52 L264.12,270.11 L264.62,269.70 L265.12,269.29 L265.62,268.87 L266.12,268.45 L266.62,268.03 L267.12,267.60 L267.62,267.17 L268.12,266.74 L268.62,266.30 L269.12,265.86 L269.62,265.42 L270.12,264.99 L270.62,264.54 L271.12,264.10 L271.62,263.66 L272.12,263.22 L272.62,262.78 L273.12,262.34 L273.62,261.90 L274.12,261.47 L274.62,261.03 L275.12,260.60 L275.62,260.17 L276.12,259.74 L276.62,259.32 L277.12,258.90 L277.62,258.49 L278.12,258.08 L278.63,257.67 L279.13,257.27 L279.63,256.88 L280.13,256.49 L280.63,256.10 L281.13,255.73 L281.63,255.36 L282.13,254.99 L282.63,254.64 L283.13,254.29 L283.63,253.95 L284.13,253.62 L284.63,253.29 L285.13,252.97 L285.63,252.65 L286.13,252.34 L286.63,252.04 L287.13,251.74 L287.63,251.45 L288.13,251.16 L288.63,250.87 L289.13,250.59 L289.63,250.32 L290.13,250.05 L290.63,249.78 L291.13,249.52 L291.63,249.25 L292.13,249.00 L292.63,248.74 L293.13,248.49 L293.63,248.24 L294.13,247.99 L294.63,247.75 L295.14,247.50 L295.64,247.26 L296.14,247.02 L296.64,246.78 L297.14,246.54 L297.64,246.30 L298.14,246.06 L298.64,245.82 L299.14,245.59 L299.64,245.35 L300.14,245.11 L300.64,244.87 L301.14,244.63 L301.64,244.38 L302.14,244.14 L302.64,243.89 L303.14,243.65 L303.64,243.40 L304.14,243.14 L304.64,242.89 L305.14,242.63 L305.64,242.37 L306.14,242.11 L306.64,241.84 L307.14,241.57 L307.64,241.30 L308.14,241.03 L308.64,240.75 L309.14,240.48 L309.64,240.20 L310.14,239.92 L310.64,239.64 L311.14,239.37 L311.65,239.09 L312.15,238.81 L312.65,238.53 L313.15,238.25 L313.65,237.97 L314.15,237.70 L314.65,237.43 L315.15,237.15 L315.65,236.88 L316.15,236.61 L316.65,236.35 L317.15,236.08 L317.65,235.82 L318.15,235.57 L318.65,235.31 L319.15,235.06 L319.65,234.81 L320.15,234.57 L320.65,234.33 L321.15,234.10 L321.65,233.87 L322.15,233.65 L322.65,233.43 L323.15,233.22 L323.65,233.02 L324.15,232.82 L324.65,232.62 L325.15,232.44 L325.65,232.26 L326.15,232.08 L326.65,231.92 L327.15,231.76 L327.65,231.61 L328.16,231.47 L328.66,231.34 L329.16,231.21 L329.66,231.10 L330.16,230.99 L330.66,230.89 L331.16,230.79 L331.66,230.71 L332.16,230.62 L332.66,230.55 L333.16,230.48 L333.66,230.41 L334.16,230.35 L334.66,230.29 L335.16,230.24 L335.66,230.19 L336.16,230.14 L336.66,230.10 L337.16,230.06 L337.66,230.02 L338.16,229.98 L338.66,229.94 L339.16,229.91 L339.66,229.87 L340.16,229.83 L340.66,229.80 L341.16,229.76 L341.66,229.72 L342.16,229.68 L342.66,229.64 L343.16,229.59 L343.66,229.54 L344.16,229.49 L344.67,229.44 L345.17,229.38 L345.67,229.32 L346.17,229.25 L346.67,229.18 L347.17,229.10 L347.67,229.02 L348.17,228.93 L348.67,228.83 L349.17,228.73 L349.67,228.62 L350.17,228.50 L350.67,228.37 L351.17,228.24 L351.67,228.09 L352.17,227.94 L352.67,227.78 L353.17,227.61 L353.67,227.43 L354.17,227.24 L354.67,227.05 L355.17,226.85 L355.67,226.65 L356.17,226.44 L356.67,226.22 L357.17,226.00 L357.67,225.78 L358.17,225.56 L358.67,225.33 L359.17,225.09 L359.67,224.86 L360.17,224.63 L360.67,224.39 L361.18,224.16 L361.68,223.92 L362.18,223.68 L362.68,223.45 L363.18,223.22 L363.68,222.99 L364.18,222.76 L364.68,222.53 L365.18,222.31 L365.68,222.09 L366.18,221.88 L366.68,221.67 L367.18,221.47 L367.68,221.27 L368.18,221.08 L368.68,220.90 L369.18,220.72 L369.68,220.56 L370.18,220.40 L370.68,220.24 L371.18,220.10 L371.68,219.97 L372.18,219.85 L372.68,219.74 L373.18,219.64 L373.68,219.56 L374.18,219.48 L374.68,219.42 L375.18,219.37 L375.68,219.33 L376.18,219.31 L376.68,219.30 L377.18,219.30 L377.69,219.32 L378.19,219.34 L378.69,219.38 L379.19,219.43 L379.69,219.48 L380.19,219.55 L380.69,219.63 L381.19,219.71 L381.69,219.81 L382.19,219.91 L382.69,220.02 L383.19,220.13 L383.69,220.26 L384.19,220.39 L384.69,220.53 L385.19,220.67 L385.69,220.82 L386.19,220.97 L386.69,221.13 L387.19,221.30 L387.69,221.46 L388.19,221.64 L388.69,221.81 L389.19,221.99 L389.69,222.17 L390.19,222.35 L390.69,222.53 L391.19,222.72 L391.69,222.90 L392.19,223.09 L392.69,223.28 L393.19,223.47 L393.69,223.65 L394.20,223.84 L394.70,224.02 L395.20,224.20 L395.70,224.38 L396.20,224.56 L396.70,224.73 L397.20,224.91 L397.70,225.07 L398.20,225.24 L398.70,225.40 L399.20,225.55 L399.70,225.70 L400.20,225.85 L400.70,225.99 L401.20,226.13 L401.70,226.27 L402.20,226.40 L402.70,226.53 L403.20,226.65 L403.70,226.77 L404.20,226.89 L404.70,227.00 L405.20,227.11 L405.70,227.21 L406.20,227.31 L406.70,227.41 L407.20,227.51 L407.70,227.60 L408.20,227.68 L408.70,227.77 L409.20,227.85 L409.70,227.93 L410.21,228.01 L410.71,228.08 L411.21,228.15 L411.71,228.21 L412.21,228.28 L412.71,228.34 L413.21,228.40 L413.71,228.45 L414.21,228.51 L414.71,228.56 L415.21,228.60 L415.71,228.65 L416.21,228.69 L416.71,228.73 L417.21,228.77 L417.71,228.81 L418.21,228.84 L418.71,228.87 L419.21,228.90 L419.71,228.93 L420.21,228.95 L420.71,228.98 L421.21,229.00 L421.71,229.02 L422.21,229.03 L422.71,229.05 L423.21,229.07 L423.71,229.08 L424.21,229.09 L424.71,229.11 L425.21,229.12 L425.71,229.13 L426.21,229.15 L426.72,229.16 L427.22,229.18 L427.72,229.20 L428.22,229.21 L428.72,229.23 L429.22,229.26 L429.72,229.28 L430.22,229.31 L430.72,229.34 L431.22,229.37 L431.72,229.40 L432.22,229.44 L432.72,229.48 L433.22,229.53 L433.72,229.58 L434.22,229.64 L434.72,229.70 L435.22,229.76 L435.72,229.83 L436.22,229.91 L436.72,229.99 L437.22,230.08 L437.72,230.17 L438.22,230.27 L438.72,230.38 L439.22,230.49 L439.72,230.61 L440.22,230.74 L440.72,230.88 L441.22,231.03 L441.72,231.18 L442.22,231.34 L442.72,231.51 L443.23,231.69 L443.73,231.88 L444.23,232.08 L444.73,232.29 L445.23,232.51 L445.73,232.73 L446.23,232.97 L446.73,233.22 L447.23,233.47 L447.73,233.74 L448.23,234.01 L448.73,234.29 L449.23,234.58 L449.73,234.88 L450.23,235.19 L450.73,235.50 L451.23,235.82 L451.73,236.15 L452.23,236.48 L452.73,236.82 L453.23,237.17 L453.73,237.53 L454.23,237.89 L454.73,238.25 L455.23,238.62 L455.73,239.00 L456.23,239.38 L456.73,239.77 L457.23,240.16 L457.73,240.56 L458.23,240.96 L458.73,241.36 L459.23,241.77 L459.74,242.18 L460.24,242.60 L460.74,243.02 L461.24,243.44 L461.74,243.86 L462.24,244.29 L462.74,244.72 L463.24,245.15 L463.74,245.59 L464.24,246.02 L464.74,246.46 L465.24,246.90 L465.74,247.34 L466.24,247.78 L466.74,248.22 L467.24,248.66 L467.74,249.10" fill="none" stroke="#ff0000" stroke-width="2.2" stroke-linecap="round"/>
<rect x="67.50" y="417.60" width="11.0" height="11.0" fill="none" stroke="#ff0000" stroke-width="2.3"/>
<rect x="125.55" y="324.30" width="11.0" height="11.0" fill="none" stroke="#ff0000" stroke-width="2.3"/>
<rect x="183.60" y="296.50" width="11.0" height="11.0" fill="none" stroke="#ff0000" stroke-width="2.3"/>
<rect x="206.82" y="285.60" width="11.0" height="11.0" fill="none" stroke="#ff0000" stroke-width="2.3"/>
<rect x="230.04" y="277.90" width="11.0" height="11.0" fill="none" stroke="#ff0000" stroke-width="2.3"/>
<rect x="253.26" y="268.60" width="11.0" height="11.0" fill="none" stroke="#ff0000" stroke-width="2.3"/>
<rect x="276.48" y="249.60" width="11.0" height="11.0" fill="none" stroke="#ff0000" stroke-width="2.3"/>
<rect x="299.70" y="237.10" width="11.0" height="11.0" fill="none" stroke="#ff0000" stroke-width="2.3"/>
<rect x="322.92" y="225.90" width="11.0" height="11.0" fill="none" stroke="#ff0000" stroke-width="2.3"/>
<rect x="346.14" y="222.60" width="11.0" height="11.0" fill="none" stroke="#ff0000" stroke-width="2.3"/>
<rect x="369.36" y="213.90" width="11.0" height="11.0" fill="none" stroke="#ff0000" stroke-width="2.3"/>
<rect x="392.58" y="219.70" width="11.0" height="11.0" fill="none" stroke="#ff0000" stroke-width="2.3"/>
<rect x="415.80" y="223.50" width="11.0" height="11.0" fill="none" stroke="#ff0000" stroke-width="2.3"/>
<rect x="439.02" y="226.70" width="11.0" height="11.0" fill="none" stroke="#ff0000" stroke-width="2.3"/>
<rect x="462.24" y="243.60" width="11.0" height="11.0" fill="none" stroke="#ff0000" stroke-width="2.3"/></g>
<g><line x1="96.22" y1="423.10" x2="96.22" y2="416.60" stroke="#000" stroke-width="1"/><line x1="119.44" y1="423.10" x2="119.44" y2="416.60" stroke="#000" stroke-width="1"/><line x1="142.66" y1="423.10" x2="142.66" y2="416.60" stroke="#000" stroke-width="1"/><line x1="165.88" y1="423.10" x2="165.88" y2="416.60" stroke="#000" stroke-width="1"/><line x1="189.10" y1="423.10" x2="189.10" y2="411.10" stroke="#000" stroke-width="2"/><line x1="212.32" y1="423.10" x2="212.32" y2="416.60" stroke="#000" stroke-width="1"/><line x1="235.54" y1="423.10" x2="235.54" y2="416.60" stroke="#000" stroke-width="1"/><line x1="258.76" y1="423.10" x2="258.76" y2="416.60" stroke="#000" stroke-width="1"/><line x1="281.98" y1="423.10" x2="281.98" y2="416.60" stroke="#000" stroke-width="1"/><line x1="305.20" y1="423.10" x2="305.20" y2="411.10" stroke="#000" stroke-width="2"/><line x1="328.42" y1="423.10" x2="328.42" y2="416.60" stroke="#000" stroke-width="1"/><line x1="351.64" y1="423.10" x2="351.64" y2="416.60" stroke="#000" stroke-width="1"/><line x1="374.86" y1="423.10" x2="374.86" y2="416.60" stroke="#000" stroke-width="1"/><line x1="398.08" y1="423.10" x2="398.08" y2="416.60" stroke="#000" stroke-width="1"/><line x1="421.30" y1="423.10" x2="421.30" y2="411.10" stroke="#000" stroke-width="2"/><line x1="444.52" y1="423.10" x2="444.52" y2="416.60" stroke="#000" stroke-width="1"/><line x1="467.74" y1="423.10" x2="467.74" y2="416.60" stroke="#000" stroke-width="1"/><line x1="490.96" y1="423.10" x2="490.96" y2="416.60" stroke="#000" stroke-width="1"/><line x1="514.18" y1="423.10" x2="514.18" y2="416.60" stroke="#000" stroke-width="1"/><line x1="73.00" y1="409.36" x2="79.50" y2="409.36" stroke="#000" stroke-width="1"/><line x1="73.00" y1="395.62" x2="79.50" y2="395.62" stroke="#000" stroke-width="1"/><line x1="73.00" y1="381.88" x2="79.50" y2="381.88" stroke="#000" stroke-width="1"/><line x1="73.00" y1="368.14" x2="79.50" y2="368.14" stroke="#000" stroke-width="1"/><line x1="73.00" y1="354.40" x2="85.00" y2="354.40" stroke="#000" stroke-width="2"/><line x1="73.00" y1="340.66" x2="79.50" y2="340.66" stroke="#000" stroke-width="1"/><line x1="73.00" y1="326.92" x2="79.50" y2="326.92" stroke="#000" stroke-width="1"/><line x1="73.00" y1="313.18" x2="79.50" y2="313.18" stroke="#000" stroke-width="1"/><line x1="73.00" y1="299.44" x2="79.50" y2="299.44" stroke="#000" stroke-width="1"/><line x1="73.00" y1="285.70" x2="85.00" y2="285.70" stroke="#000" stroke-width="2"/><line x1="73.00" y1="271.96" x2="79.50" y2="271.96" stroke="#000" stroke-width="1"/><line x1="73.00" y1="258.22" x2="79.50" y2="258.22" stroke="#000" stroke-width="1"/><line x1="73.00" y1="244.48" x2="79.50" y2="244.48" stroke="#000" stroke-width="1"/><line x1="73.00" y1="230.74" x2="79.50" y2="230.74" stroke="#000" stroke-width="1"/><line x1="73.00" y1="217.00" x2="85.00" y2="217.00" stroke="#000" stroke-width="2"/><line x1="73.00" y1="203.26" x2="79.50" y2="203.26" stroke="#000" stroke-width="1"/><line x1="73.00" y1="189.52" x2="79.50" y2="189.52" stroke="#000" stroke-width="1"/><line x1="73.00" y1="175.78" x2="79.50" y2="175.78" stroke="#000" stroke-width="1"/><line x1="73.00" y1="162.04" x2="79.50" y2="162.04" stroke="#000" stroke-width="1"/><line x1="73.00" y1="148.30" x2="85.00" y2="148.30" stroke="#000" stroke-width="2"/><line x1="73.00" y1="134.56" x2="79.50" y2="134.56" stroke="#000" stroke-width="1"/><line x1="73.00" y1="120.82" x2="79.50" y2="120.82" stroke="#000" stroke-width="1"/><line x1="73.00" y1="107.08" x2="79.50" y2="107.08" stroke="#000" stroke-width="1"/><line x1="73.00" y1="93.34" x2="79.50" y2="93.34" stroke="#000" stroke-width="1"/><line x1="73.00" y1="79.60" x2="85.00" y2="79.60" stroke="#000" stroke-width="2"/><line x1="73.00" y1="65.86" x2="79.50" y2="65.86" stroke="#000" stroke-width="1"/><line x1="73.00" y1="52.12" x2="79.50" y2="52.12" stroke="#000" stroke-width="1"/><line x1="73.00" y1="38.38" x2="79.50" y2="38.38" stroke="#000" stroke-width="1"/><line x1="73.00" y1="24.64" x2="79.50" y2="24.64" stroke="#000" stroke-width="1"/></g>
<rect x="73.1" y="10.90" width="464.60" height="412.20" fill="none" stroke="#000" stroke-width="2"/>
<g font-size="19.7" fill="#000"><text transform="translate(73.00,442) scale(0.95,1)" text-anchor="middle">0</text><text transform="translate(189.10,442) scale(0.95,1)" text-anchor="middle">10</text><text transform="translate(305.20,442) scale(0.95,1)" text-anchor="middle">20</text><text transform="translate(421.30,442) scale(0.95,1)" text-anchor="middle">30</text><text transform="translate(537.40,442) scale(0.95,1)" text-anchor="middle">40</text><text transform="translate(66.6,430.20) scale(0.97,1)" text-anchor="end">0</text><text transform="translate(66.6,361.50) scale(0.97,1)" text-anchor="end">100</text><text transform="translate(66.6,292.80) scale(0.97,1)" text-anchor="end">200</text><text transform="translate(66.6,224.10) scale(0.97,1)" text-anchor="end">300</text><text transform="translate(66.6,155.40) scale(0.97,1)" text-anchor="end">400</text><text transform="translate(66.6,86.70) scale(0.97,1)" text-anchor="end">500</text><text transform="translate(66.6,16.80) scale(0.97,1)" text-anchor="end">600</text></g>
<g fill="#000">
<path d="M94.6,35.5H144.7" stroke="#ff0000" stroke-width="2.2" stroke-linecap="round"/>
<rect x="114.00" y="30.00" width="11.0" height="11.0" fill="none" stroke="#ff0000" stroke-width="2.3"/>
<path d="M93.0,60H144.1" stroke="#00cc00" stroke-width="2.3" stroke-dasharray="10.6 4.91 0.5 6.06" stroke-linecap="round"/>
<path d="M112.45,56.09H124.95L118.70,66.92Z" fill="none" stroke="#00cc00" stroke-width="2.6" stroke-linejoin="miter"/>
<path d="M95.2,83.5H146.1" stroke="#0000ff" stroke-width="2.3" stroke-dasharray="15.6 6.3" stroke-linecap="round"/>
<circle cx="120.70" cy="83.30" r="7.35" fill="none" stroke="#0000ff" stroke-width="2.7"/>
<text x="152.6" y="43.6" font-size="21" textLength="109.5" lengthAdjust="spacingAndGlyphs">d=1.6 (mm)</text>
<text x="152.6" y="66.3" font-size="21" textLength="109.5" lengthAdjust="spacingAndGlyphs">d=1.8 (mm)</text>
<text x="152.6" y="88.9" font-size="21" textLength="109.5" lengthAdjust="spacingAndGlyphs">d=2.0 (mm)</text>
</g>
<text transform="translate(23.0,216.2) rotate(-90)" font-size="27.3" text-anchor="middle" fill="#000">Pumping rate(μL/min)</text>
<text x="306.1" y="475.2" font-size="27.6" text-anchor="middle" fill="#000">Frequency(Hz)</text>
</svg>
</body></html>
